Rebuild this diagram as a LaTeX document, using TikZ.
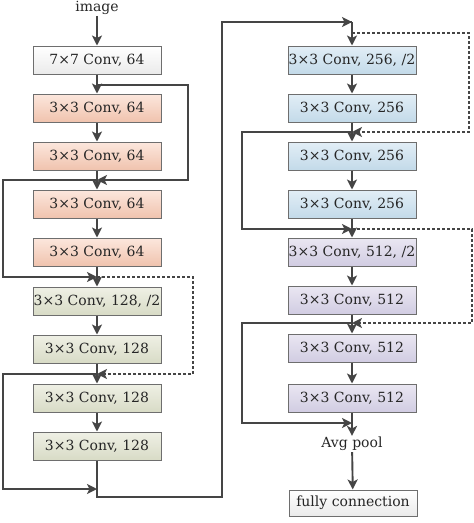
\documentclass[tikz,border=0pt]{standalone}
\usepackage{fontspec}
\setmainfont{DejaVu Serif}
\usetikzlibrary{arrows.meta,shadows}
\definecolor{linec}{HTML}{454545}
\definecolor{bordc}{HTML}{6E6E6E}
\definecolor{salt}{HTML}{FCE7DD}
\definecolor{salbo}{HTML}{F0C3AE}
\definecolor{grt}{HTML}{EFF0E5}
\definecolor{grb}{HTML}{D8DBC6}
\definecolor{blt}{HTML}{E2EEF6}
\definecolor{blb}{HTML}{C3DAE9}
\definecolor{put}{HTML}{EAE7F2}
\definecolor{pub}{HTML}{D1CCE2}
\tikzset{
  blk/.style={draw=bordc, line width=1pt, minimum width=128pt, minimum height=28pt,
    inner sep=0pt, font=\fontsize{14}{16}\selectfont, text=black!85,
    drop shadow={shadow xshift=1.2pt, shadow yshift=-1.2pt, opacity=0.25}},
  wht/.style={blk, top color=white, bottom color=black!8},
  s1/.style={blk, top color=salt, bottom color=salbo},
  s2/.style={blk, top color=grt, bottom color=grb},
  s3/.style={blk, top color=blt, bottom color=blb},
  s4/.style={blk, top color=put, bottom color=pub},
  lbl/.style={font=\fontsize{14}{16}\selectfont, text=black!85, inner sep=1pt},
  arr/.style={draw=linec, line width=1.9pt, -{Stealth[length=10pt,width=10pt,inset=2.5pt]}},
  ln/.style={draw=linec, line width=1.9pt},
  dsh/.style={draw=linec, line width=1.9pt, dash pattern=on 3pt off 2pt},
}
\begin{document}
\begin{tikzpicture}[x=1pt,y=-1pt]
\useasboundingbox (0,0) rectangle (474,523);
% left column
\node[lbl] (img) at (97,8) {image};
\node[wht] (b1) at (97,60) {7×7 Conv, 64};
\node[s1] (b2) at (97,108) {3×3 Conv, 64};
\node[s1] (b3) at (97,156) {3×3 Conv, 64};
\node[s1] (b4) at (97,204) {3×3 Conv, 64};
\node[s1] (b5) at (97,252) {3×3 Conv, 64};
\node[s2] (b6) at (97,301) {3×3 Conv, 128, /2};
\node[s2] (b7) at (97,349) {3×3 Conv, 128};
\node[s2] (b8) at (97,398) {3×3 Conv, 128};
\node[s2] (b9) at (97,446) {3×3 Conv, 128};
% right column
\node[s3] (c1) at (352,60) {3×3 Conv, 256, /2};
\node[s3] (c2) at (352,108) {3×3 Conv, 256};
\node[s3] (c3) at (352,156) {3×3 Conv, 256};
\node[s3] (c4) at (352,204) {3×3 Conv, 256};
\node[s4] (c5) at (352,252) {3×3 Conv, 512, /2};
\node[s4] (c6) at (352,300) {3×3 Conv, 512};
\node[s4] (c7) at (352,348) {3×3 Conv, 512};
\node[s4] (c8) at (352,398) {3×3 Conv, 512};
\node[lbl] (avg) at (352,444) {Avg pool};
\node[wht, minimum height=26pt] (fc) at (353,503) {fully connection};
% junctions
\coordinate (j1) at (97,85);
\coordinate (j2) at (97,180);
\coordinate (j3) at (97,277);
\coordinate (j4) at (97,374);
\coordinate (j5) at (97,489);
\coordinate (j6) at (97,497);
\coordinate (t0) at (352,22);
\coordinate (k1) at (352,33);
\coordinate (k2) at (352,132);
\coordinate (k3) at (352,229);
\coordinate (k4) at (352,323);
\coordinate (k5) at (352,423);
% main chain
\draw[arr] (img) -- (b1);
\foreach \a/\b in {b1/b2,b2/b3,b3/b4,b4/b5,b5/b6,b6/b7,b7/b8,b8/b9,
                   c1/c2,c2/c3,c3/c4,c4/c5,c5/c6,c6/c7,c7/c8}
  \draw[arr] (\a) -- (\b);
\draw[ln] (b9) -- (j6) -- ++(125,0) |- (t0);
\draw[arr] (222,22) -- (t0);
\draw[arr] (t0) -- (c1);
\draw[arr] (c8) -- (avg);
\draw[arr] (avg) -- (fc);
% left skips
\draw[arr] (j1) -- ++(91,0) |- (j2);
\draw[arr] (j2) -- ++(-94,0) |- (j3);
\draw[dsh] (j3) -- ++(96,0) -- ++(0,97) -- ([xshift=7pt]j4);
\draw[arr] ([xshift=8pt]j4) -- (j4);
\draw[arr] (j4) -- ++(-94,0) |- (j5);
% right skips
\draw[dsh] (k1) -- ++(117,0) -- ++(0,99) -- ([xshift=7pt]k2);
\draw[arr] ([xshift=8pt]k2) -- (k2);
\draw[arr] (k2) -- ++(-110,0) |- (k3);
\draw[dsh] (k3) -- ++(120,0) -- ++(0,94) -- ([xshift=7pt]k4);
\draw[arr] ([xshift=8pt]k4) -- (k4);
\draw[arr] (k4) -- ++(-110,0) |- (k5);
\end{tikzpicture}
\end{document}
